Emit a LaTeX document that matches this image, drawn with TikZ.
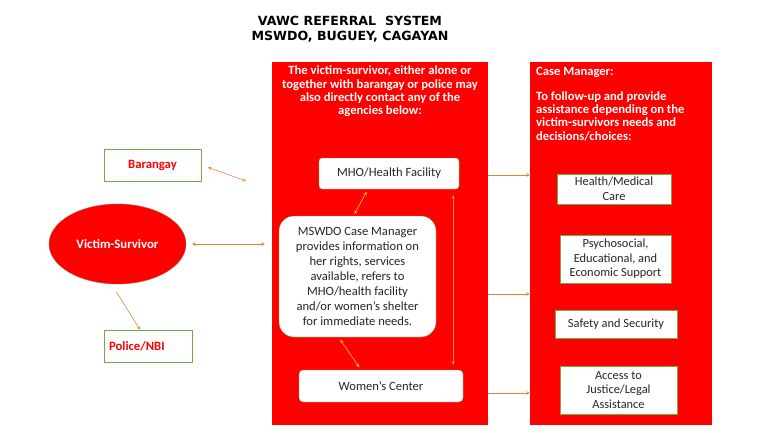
\documentclass[tikz,border=0pt]{standalone}
\usepackage{fontspec}
\setmainfont{Carlito}
\newfontfamily\titlefont{DejaVu Sans}
\usepackage{xcolor}
\usetikzlibrary{shapes.geometric, arrows, positioning, calc}

\definecolor{panelred}{RGB}{255,0,0}
\definecolor{linkorange}{RGB}{237,125,49}
\definecolor{linkyellow}{RGB}{255,192,0}
\definecolor{boxgreen}{RGB}{112,173,71}
\definecolor{textgray}{RGB}{38,38,38}

\begin{document}
\begin{tikzpicture}[
    x=1pt, y=-1pt,
    panel/.style={rectangle, fill=panelred, inner sep=0pt},
    heading/.style={text=white, font=\fontsize{12.6}{13.3}\selectfont\bfseries, inner sep=0pt},
    office/.style={rectangle, draw=boxgreen, fill=white, text=textgray, align=center, font=\fontsize{12.6}{15.1}\selectfont, inner sep=1pt},
    service/.style={rectangle, draw=boxgreen, line width=0.9pt, fill=white, text=textgray, align=center, font=\fontsize{12.4}{14.6}\selectfont, inner sep=1pt},
    party/.style={rectangle, draw=boxgreen, line width=0.7pt, fill=white, text=panelred, font=\fontsize{12.7}{14}\selectfont\bfseries},
    arrow/.style={->, >=stealth, draw=linkorange, line width=0.55pt},
    twoway/.style={<->, >=stealth, draw=linkorange, line width=0.55pt},
    inner/.style={<->, >=stealth, draw=linkyellow, line width=0.7pt}
]
\useasboundingbox (0,0) rectangle (768,433);

% Title
\node (title) at (350,29.5) [align=center, font=\titlefont\fontsize{12.6}{15}\selectfont\bfseries] {VAWC REFERRAL\ \ SYSTEM\\MSWDO, BUGUEY, CAGAYAN};

% Panels
\node (midpanel) at (380,243.5) [panel, minimum width=216, minimum height=362] {};
\node (rightpanel) at (621,243.5) [panel, minimum width=182, minimum height=362] {};
\node (midhead) at (380,91.5) [heading, align=center] {The victim-survivor, either alone or\\together with barangay or police may\\also directly contact any of the\\agencies below:};
\node (righthead) at (536,67.5) [heading, anchor=north west, align=left] {Case Manager:\\[11pt]To follow-up and provide\\assistance depending on the\\victim-survivors needs and\\decisions/choices:};

% Nodes
\node (barangay) at (152.5,165) [party, minimum width=97, minimum height=32] {Barangay};
\node (victim) at (117.5,244) [ellipse, fill=panelred, draw=boxgreen!60!panelred, minimum width=137, minimum height=80, text=white, font=\fontsize{12.8}{14}\selectfont\bfseries] {Victim-Survivor};
\node (police) at (148,346) [party, minimum width=88, minimum height=32, text width=78, align=left] {Police/NBI};

\node (mho) at (389,173.5) [office, rounded corners=3pt, minimum width=140, minimum height=31] {MHO/Health Facility};
\node (mswdo) at (357.5,276.5) [office, rounded corners=15pt, minimum width=157, minimum height=121] {MSWDO Case Manager\\provides information on\\her rights, services\\available, refers to\\MHO/health facility\\and/or women's shelter\\for immediate needs.};
\node (women) at (381,386) [office, rounded corners=4pt, minimum width=164, minimum height=32] {Women's Center};

\node (health) at (614,189) [service, minimum width=114, minimum height=30] {Health/Medical\\Care};
\node (psycho) at (615.5,259) [service, minimum width=111, minimum height=48] {Psychosocial,\\Educational, and\\Economic Support};
\node (safety) at (616,324) [service, minimum width=122, minimum height=28] {Safety and Security};
\node (justice) at (618.5,390) [service, minimum width=117, minimum height=48] {Access to\\Justice/Legal\\Assistance};

\coordinate (bgyend) at (246,181);

% Arrows
\draw [twoway, shorten <=7pt] (barangay.east) -- (bgyend);
\draw [twoway, shorten <=6pt, shorten >=14pt] (victim.east) -- (victim.east -| mswdo.west);
\draw [arrow, shorten <=9pt] ([xshift=-6pt]victim.south) -- ([xshift=-8pt]police.north);

\draw [inner, shorten <=3pt, shorten >=2pt] ([xshift=-21pt]mho.south) -- ([xshift=-4pt]mswdo.north);
\draw [inner, shorten <=3pt, shorten >=3pt] ([xshift=-19pt]mswdo.south) -- ([xshift=-20pt]women.north);
\draw [twoway, draw=linkorange!70!linkyellow, shorten <=6pt, shorten >=5pt] ([xshift=-6pt]mho.south east) -- ([xshift=-10pt]women.north east);

\draw [arrow] ($(midpanel.east)+(0,-68.5)$) -- ($(rightpanel.west)+(0,-68.5)$);
\draw [arrow] ($(midpanel.east)+(0,50.5)$) -- ($(rightpanel.west)+(0,50.5)$);
\draw [arrow] ($(midpanel.east)+(0,149.5)$) -- ($(rightpanel.west)+(0,149.5)$);

\end{tikzpicture}
\end{document}
